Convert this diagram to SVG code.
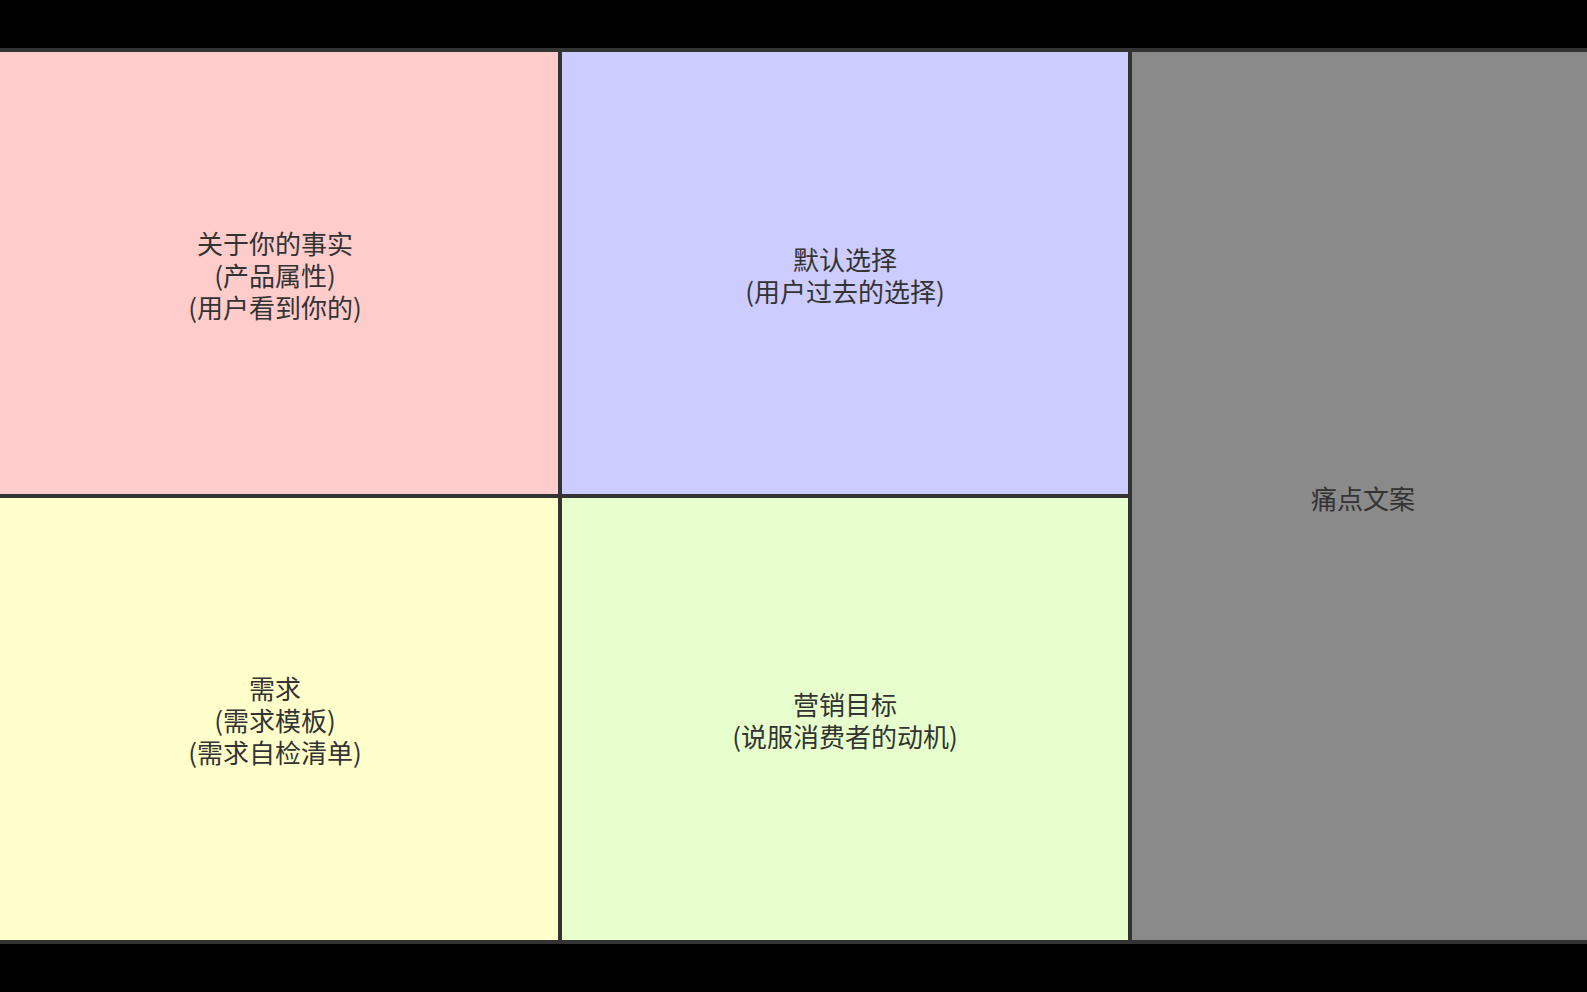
<svg xmlns="http://www.w3.org/2000/svg" width="1587" height="992" viewBox="0 0 1587 992">
<style>
.cell{stroke:#333333;stroke-width:4}
.t{font-family:"Noto Sans CJK SC","Noto Sans",sans-serif;font-size:26px;fill:#333333;text-anchor:middle;dominant-baseline:central}
</style>
<rect x="0" y="0" width="1587" height="992" fill="#000000"/>
<g id="node-facts">
<rect class="cell" x="-10" y="50" width="570" height="446" fill="#FFCCCC"/>
<text class="t" x="275" y="242"><tspan x="275" y="242">关于你的事实</tspan><tspan x="275" y="274">(产品属性)</tspan><tspan x="275" y="306">(用户看到你的)</tspan></text>
</g>
<g id="node-default">
<rect class="cell" x="560" y="50" width="570" height="446" fill="#CCCCFF"/>
<text class="t" x="845" y="258"><tspan x="845" y="258">默认选择</tspan><tspan x="845" y="290">(用户过去的选择)</tspan></text>
</g>
<g id="node-needs">
<rect class="cell" x="-10" y="496" width="570" height="446" fill="#FFFFCC"/>
<text class="t" x="275" y="687"><tspan x="275" y="687">需求</tspan><tspan x="275" y="719">(需求模板)</tspan><tspan x="275" y="751">(需求自检清单)</tspan></text>
</g>
<g id="node-goal">
<rect class="cell" x="560" y="496" width="570" height="446" fill="#E6FFCC"/>
<text class="t" x="845" y="703"><tspan x="845" y="703">营销目标</tspan><tspan x="845" y="735">(说服消费者的动机)</tspan></text>
</g>
<g id="node-pain">
<rect class="cell" x="1130" y="50" width="466" height="892" fill="#8A8A8A"/>
<text class="t" x="1363" y="497">痛点文案</text>
</g>
<g id="connectors"/>
</svg>
